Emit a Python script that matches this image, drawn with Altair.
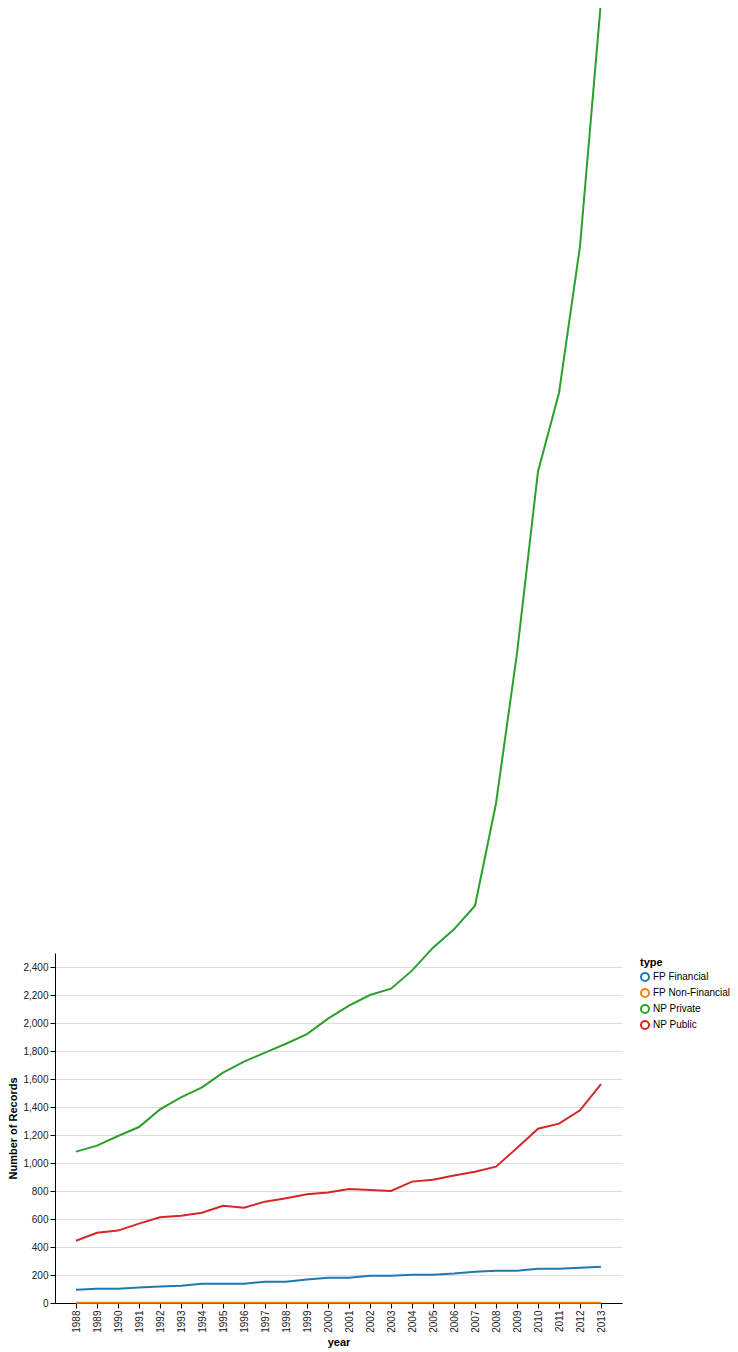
import altair as alt
import pandas as pd

years = [str(y) for y in range(1988, 2014)]
types = ["FP Financial", "FP Non-Financial", "NP Private", "NP Public"]

fp_financial = [95, 102, 102, 110, 117, 124, 138, 138, 138, 152, 152, 167, 181,
                181, 195, 195, 202, 202, 210, 224, 231, 231, 245, 245, 252, 259]
fp_non_financial = [1, 1, 1, 1, 1, 1, 1, 1, 1, 1, 1, 1, 1,
                    1, 1, 1, 1, 1, 1, 1, 1, 1, 1, 1, 1, 1]
np_private = [1081, 1124, 1193, 1257, 1383, 1469, 1540, 1645, 1724, 1788, 1852, 1921, 2031,
              2124, 2200, 2245, 2374, 2538, 2669, 2838, 3568, 4640, 5940, 6500, 7548, 9300]
np_public = [445, 502, 517, 567, 612, 624, 645, 695, 681, 724, 748, 776, 790,
             814, 807, 800, 867, 881, 910, 938, 974, 1107, 1245, 1281, 1376, 1564]

series = {
    "FP Financial": fp_financial,
    "FP Non-Financial": fp_non_financial,
    "NP Private": np_private,
    "NP Public": np_public,
}

rows = []
for t in types:
    for y, v in zip(years, series[t]):
        rows.append({"year": y, "type": t, "records": v})
df = pd.DataFrame(rows)

chart = (
    alt.Chart(df)
    .mark_line(strokeWidth=2)
    .encode(
        x=alt.X("year:O", title="year",
                scale=alt.Scale(type="point", padding=1),
                axis=alt.Axis(labelAngle=270, grid=False)),
        y=alt.Y("records:Q", title="Number of Records",
                scale=alt.Scale(domain=[0, 2500], nice=False)),
        color=alt.Color("type:N", title="type",
                        scale=alt.Scale(domain=types, scheme="category10"),
                        legend=alt.Legend(symbolType="circle", offset=14, padding=4)),
    )
    .properties(
        width=567,
        height=350,
        autosize=alt.AutoSizeParams(type="none"),
        padding={"left": 47, "top": 945, "right": 108, "bottom": 49},
    )
    .configure(font="Liberation Sans")
    .configure_view(stroke=None)
    .configure_axis(
        domainColor="#000",
        tickColor="#000",
        labelColor="#222",
        labelFontSize=10,
        titleFontSize=11,
        titleFontWeight="bold",
        gridColor="#ddd",
    )
    .configure_legend(
        titleFontSize=11,
        labelFontSize=10,
        symbolStrokeWidth=2,
        symbolSize=64,
        labelOffset=3,
        rowPadding=0,
        titlePadding=4,
        labelLimit=200,
    )
)

chart.save("out.html", embed_options={"renderer": "svg", "actions": False})
